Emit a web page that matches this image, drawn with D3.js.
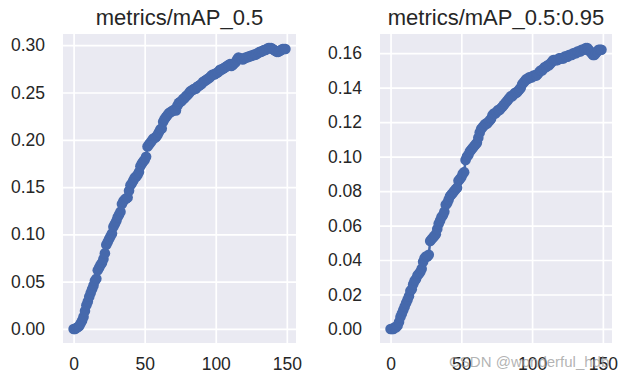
<!DOCTYPE html>
<html><head><meta charset="utf-8">
<script src="https://cdn.jsdelivr.net/npm/d3@7"></script>
<style>body{margin:0;background:#fff}svg{display:block}text{font-family:"Liberation Sans",Arial,sans-serif}</style>
</head><body>
<script>
const titles = ["metrics/mAP_0.5", "metrics/mAP_0.5:0.95"];
const mAP50 = [
0.000,0.000,0.001,0.002,0.003,0.006,0.009,0.013,0.019,0.025,
0.029,0.034,0.038,0.042,0.046,0.051,0.053,0.062,0.065,0.068,
0.070,0.074,0.080,0.089,0.092,0.095,0.098,0.101,0.108,0.111,
0.114,0.118,0.121,0.124,0.132,0.135,0.137,0.138,0.139,0.146,
0.152,0.154,0.157,0.160,0.161,0.163,0.166,0.172,0.175,0.177,
0.179,0.182,0.193,0.195,0.197,0.199,0.201,0.202,0.203,0.205,
0.208,0.211,0.212,0.219,0.222,0.224,0.226,0.228,0.229,0.230,
0.231,0.232,0.231,0.236,0.239,0.240,0.241,0.243,0.244,0.246,
0.247,0.249,0.251,0.252,0.253,0.254,0.254,0.256,0.257,0.258,
0.259,0.261,0.262,0.263,0.264,0.265,0.266,0.268,0.269,0.269,
0.270,0.271,0.272,0.274,0.274,0.275,0.276,0.277,0.278,0.279,
0.280,0.278,0.279,0.281,0.282,0.285,0.287,0.286,0.286,0.285,
0.286,0.287,0.287,0.288,0.288,0.289,0.289,0.290,0.290,0.291,
0.292,0.293,0.293,0.294,0.295,0.295,0.296,0.297,0.297,0.297,
0.296,0.295,0.294,0.293,0.293,0.294,0.295,0.296,0.296,0.296];
const mAP5095 = [
0.000,0.000,0.000,0.001,0.001,0.002,0.004,0.007,0.009,0.011,
0.013,0.015,0.017,0.019,0.022,0.023,0.026,0.028,0.029,0.031,
0.032,0.033,0.035,0.039,0.041,0.042,0.042,0.043,0.051,0.052,
0.053,0.054,0.055,0.058,0.061,0.063,0.065,0.066,0.068,0.072,
0.073,0.075,0.077,0.078,0.079,0.080,0.081,0.082,0.086,0.087,
0.088,0.090,0.091,0.098,0.100,0.101,0.103,0.104,0.105,0.106,
0.107,0.108,0.111,0.114,0.116,0.117,0.118,0.119,0.119,0.120,
0.121,0.122,0.124,0.125,0.125,0.126,0.127,0.127,0.128,0.129,
0.130,0.131,0.132,0.133,0.134,0.135,0.135,0.136,0.137,0.137,
0.138,0.139,0.140,0.142,0.143,0.144,0.145,0.145,0.146,0.146,
0.146,0.147,0.147,0.147,0.148,0.149,0.150,0.150,0.151,0.152,
0.152,0.153,0.153,0.154,0.155,0.156,0.156,0.156,0.156,0.157,
0.157,0.157,0.157,0.158,0.158,0.158,0.159,0.159,0.159,0.160,
0.160,0.160,0.161,0.161,0.161,0.162,0.162,0.162,0.163,0.163,
0.162,0.161,0.160,0.159,0.159,0.160,0.161,0.162,0.162,0.162];
const xTicks = [0, 50, 100, 150];
const yTicks50 = [0.00, 0.05, 0.10, 0.15, 0.20, 0.25, 0.30];
const yTicks5095 = [0.00, 0.02, 0.04, 0.06, 0.08, 0.10, 0.12, 0.14, 0.16];

const W = 629, H = 380;
const svg = d3.select("body").append("svg").attr("width", W).attr("height", H);
const color = "#4669AC";

const panels = [
  {title: titles[0], data: mAP50, ticks: yTicks50, fmt: d3.format(".2f"), left: 63, right: 296},
  {title: titles[1], data: mAP5095, ticks: yTicks5095, fmt: d3.format(".2f"), left: 380, right: 612}
];
const pTop = 34, pBottom = 343;

panels.forEach(p => {
  const n = p.data.length;
  const xr = n - 1, xm = xr * 0.05;
  const ymax = d3.max(p.data), ymin = d3.min(p.data), ym = (ymax - ymin) * 0.05;
  const x = d3.scaleLinear().domain([-xm, xr + xm]).range([p.left, p.right]);
  const y = d3.scaleLinear().domain([ymin - ym, ymax + ym]).range([pBottom, pTop]);
  const g = svg.append("g");
  g.append("rect").attr("x", p.left).attr("y", pTop).attr("width", p.right - p.left).attr("height", pBottom - pTop).attr("fill", "#EAEAF2");
  const yAxis = d3.axisLeft(y).tickValues(p.ticks).tickFormat(p.fmt).tickSize(-(p.right - p.left)).tickPadding(18);
  const ya = g.append("g").attr("transform", `translate(${p.left},0)`).call(yAxis);
  const xAxis = d3.axisBottom(x).tickValues(xTicks).tickFormat(d3.format("d")).tickSize(-(pBottom - pTop)).tickPadding(15);
  const xa = g.append("g").attr("transform", `translate(0,${pBottom})`).call(xAxis);
  [ya, xa].forEach(a => {
    a.select(".domain").remove();
    a.selectAll(".tick line").attr("stroke", "#fff").attr("stroke-width", 1.7);
    a.selectAll(".tick text").attr("fill", "#262626").style("font-size", "17.5px");
  });
  const line = d3.line().x((d, i) => x(i)).y(d => y(d));
  g.append("path").datum(p.data).attr("d", line).attr("fill", "none").attr("stroke", color).attr("stroke-width", 2.5);
  g.selectAll("circle").data(p.data).enter().append("circle")
    .attr("cx", (d, i) => x(i)).attr("cy", d => y(d)).attr("r", 5.3).attr("fill", color);
  svg.append("text").attr("x", (p.left + p.right) / 2).attr("y", 25).attr("text-anchor", "middle")
    .attr("fill", "#262626").style("font-size", "22px").text(p.title);
});

svg.append("text").attr("x", 449).attr("y", 367).attr("fill", "#9a9a9a").attr("fill-opacity", 0.75)
  .style("font-size", "15px").text("CSDN @wonderful_hdb");
</script>
</body></html>
